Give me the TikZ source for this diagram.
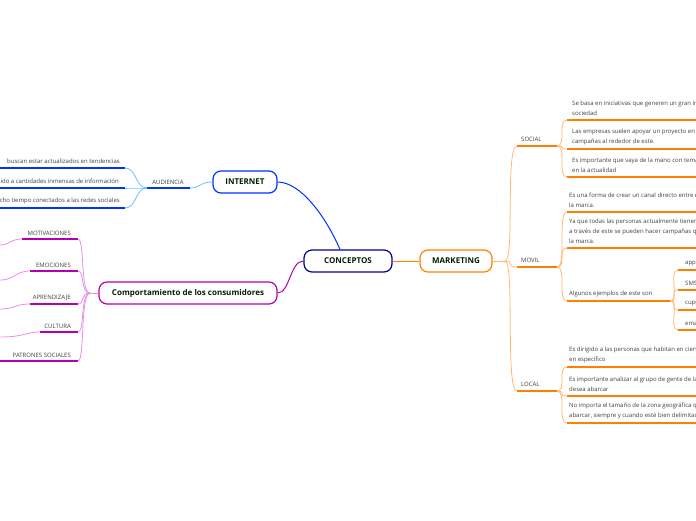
\documentclass[tikz,border=0pt]{standalone}
\usepackage{fontspec}
\setmainfont{Open Sans}
\begin{document}
\begin{tikzpicture}[x=1pt,y=-1pt,
  txt/.style={font=\fontsize{6}{10}\selectfont,text=black!75,inner sep=0pt},
  main/.style={draw,line width=1.2pt,rounded corners=8pt,font=\bfseries\fontsize{8}{10}\selectfont,text=black!80!green!60!black,minimum height=22pt,inner xsep=8pt},
  bl/.style={color=blue!80!cyan,line width=1.2pt},
  blc/.style={color=blue!40!cyan!60,line width=0.8pt},
  pu/.style={color=violet!60!magenta,line width=1.2pt},
  puc/.style={color=violet!35!magenta!45,line width=0.8pt},
  or/.style={color=orange,line width=1.2pt},
  orc/.style={color=orange!55,line width=0.8pt}]
\useasboundingbox (0,0) rectangle (696,520);
\clip (0,0) rectangle (696,520);
% main nodes
\node[main,draw=blue!60!black,minimum width=88pt] (C) at (348,261) {CONCEPTOS};
\node[main,draw=blue!80!cyan,minimum width=64pt] (I) at (245,182) {INTERNET};
\node[main,draw=violet!60!magenta,minimum width=178pt] (P) at (188,293) {Comportamiento de los consumidores};
\node[main,draw=orange,minimum width=72pt] (M) at (456,261) {MARKETING};
\draw[blue!80!cyan,line width=1pt] (C.north)+(-8,0) coordinate (cn) (cn) .. controls (325,215) and (300,182) .. (I.east);
\draw[violet!60!magenta,line width=1pt] (C.west) .. controls (290,261) and (290,293) .. (P.east);
\draw[orange,line width=1pt] (C.east) -- (M.west);

% INTERNET branch
\node[txt,anchor=south] (aud) at (168,185) {AUDIENCIA};
\coordinate (audL) at (147,188); \coordinate (audR) at (190,188);
\draw[bl] (audL) -- (audR);
\draw[blc] (I.west) .. controls (200,182) and (200,188) .. (audR);
\foreach \n/\y/\t/\x in {a1/168/buscan estar actualizados en tendencias/120, a2/188/ido a cantidades inmensas de información/119, a3/208/cho tiempo conectados a las redes sociales/120}{
  \node[txt,anchor=south east] (\n) at (\x,\y-4) {\t};
  \draw[bl] (0,\y) -- (125,\y);
  \draw[blc] (audL) .. controls (135,188) and (137,\y) .. (125,\y);
}

% Purple branch
\coordinate (pb) at (90,293);
\draw[puc] (P.west) -- (pb);
\foreach \n/\y/\t/\s in {p1/239/MOTIVACIONES/22, p2/271/EMOCIONES/30, p3/304/APRENDIZAJE/30, p4/332/CULTURA/40, p5/361/PATRONES SOCIALES/0}{
  \node[txt,anchor=south east] (\n) at (71,\y-3) {\t};
  \draw[pu] (\s,\y) -- (78,\y);
  \draw[puc] (pb) .. controls (80,293) and (85,\y) .. (78,\y);
}
\draw[puc] (22,239) .. controls (10,239) and (10,245) .. (0,245);
\draw[puc] (30,271) .. controls (15,271) and (15,280) .. (0,280);
\draw[puc] (30,304) .. controls (15,304) and (15,309) .. (0,309);
\draw[puc] (40,332) .. controls (25,332) and (25,337) .. (0,337);

% MARKETING branch
\coordinate (mb) at (505,261);
\draw[orc] (M.east) -- (mb);
\foreach \n/\y/\t in {soc/146/SOCIAL, mov/267/MOVIL, loc/391/LOCAL}{
  \node[txt,anchor=south west] (\n) at (521,\y-4) {\t};
  \draw[or] (517,\y) -- (557,\y);
  \draw[orc] (mb) .. controls (515,261) and (505,\y) .. (517,\y);
}
% SOCIAL
\foreach \y/\t in {120/{Se basa en iniciativas que generen un gran impacto en la\\sociedad}, 149/{Las empresas suelen apoyar un proyecto en específico y hacer\\campañas al rededor de este.}, 177/{Es importante que vaya de la mano con temas relevantes\\en la actualidad}}{
  \node[txt,anchor=south west,align=left] at (572,\y-4) {\t};
  \draw[or] (567,\y) -- (700,\y);
  \draw[orc] (557,146) .. controls (567,146) and (557,\y) .. (567,\y);
}
% MOVIL
\foreach \y/\t in {212/{Es una forma de crear un canal directo entre el consumidor y\\la marca.}, 248/{Ya que todas las personas actualmente tienen un celular,\\a través de este se pueden hacer campañas que promuevan\\la marca.}}{
  \node[txt,anchor=south west,align=left] at (569,\y-4) {\t};
  \draw[or] (567,\y) -- (700,\y);
  \draw[orc] (557,267) .. controls (567,267) and (557,\y) .. (567,\y);
}
\node[txt,anchor=south west] (ej) at (569,297) {Algunos ejemplos de este son};
\draw[or] (567,301) -- (670,301);
\draw[orc] (557,267) .. controls (567,267) and (557,301) .. (567,301);
\foreach \y/\t in {270/apps, 290/SMS, 310/cupones, 330/email}{
  \node[txt,anchor=south west] at (685,\y-4) {\t};
  \draw[or] (678,\y) -- (700,\y);
  \draw[orc] (670,301) .. controls (680,301) and (668,\y) .. (678,\y);
}
% LOCAL
\foreach \y/\t in {367/{Es dirigido a las personas que habitan en cierta zona\\en específico}, 396/{Es importante analizar al grupo de gente de la zona que se\\desea abarcar}, 423/{No importa el tamaño de la zona geográfica que se desee\\abarcar, siempre y cuando esté bien delimitada}}{
  \node[txt,anchor=south west,align=left] at (569,\y-4) {\t};
  \draw[or] (567,\y) -- (700,\y);
  \draw[orc] (557,391) .. controls (567,391) and (557,\y) .. (567,\y);
}
\end{tikzpicture}
\end{document}
